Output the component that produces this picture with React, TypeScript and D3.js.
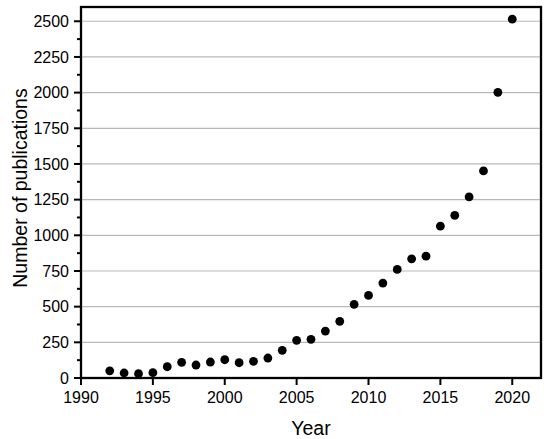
import { scaleLinear, range } from "d3";

const WIDTH = 550;
const HEIGHT = 439;

const MARGIN = {
  top: 7,
  right: 9,
  bottom: 61,
  left: 81,
};

const FONT = "'Liberation Sans', Arial, Helvetica, sans-serif";

// data
const years = [
  1992, 1993, 1994, 1995, 1996, 1997, 1998, 1999, 2000, 2001, 2002, 2003,
  2004, 2005, 2006, 2007, 2008, 2009, 2010, 2011, 2012, 2013, 2014, 2015,
  2016, 2017, 2018, 2019, 2020,
];
const publications = [
  50, 35, 30, 37, 79, 110, 91, 112, 128, 107, 117, 140,
  194, 264, 271, 329, 397, 516, 579, 665, 761, 835, 854, 1064,
  1139, 1269, 1451, 2002, 2515,
];

const xTickValues = [1990, 1995, 2000, 2005, 2010, 2015, 2020];
const yTickValues = [0, 250, 500, 750, 1000, 1250, 1500, 1750, 2000, 2250, 2500];

const X_DOMAIN: [number, number] = [1990, 2022];
const Y_DOMAIN: [number, number] = [0, 2600];

export default function App() {
  const innerWidth = WIDTH - MARGIN.left - MARGIN.right;
  const innerHeight = HEIGHT - MARGIN.top - MARGIN.bottom;

  const xScale = scaleLinear().domain(X_DOMAIN).range([0, innerWidth]);
  const yScale = scaleLinear().domain(Y_DOMAIN).range([innerHeight, 0]);

  // minor ticks halfway between majors
  const yMinor = range(125, 2600, 250);

  return (
    <svg
      width={WIDTH}
      height={HEIGHT}
      style={{ position: "absolute", left: 0, top: 0, background: "white" }}
      fontFamily={FONT}
    >
      <g transform={`translate(${MARGIN.left},${MARGIN.top})`}>
        {/* GRID */}
        {yTickValues
          .filter(t => t > 0)
          .map(t => (
            <line
              key={`g${t}`}
              x1={0}
              x2={innerWidth}
              y1={yScale(t)}
              y2={yScale(t)}
              stroke="#b9b9b9"
              strokeWidth={1.2}
            />
          ))}

        {/* POINTS */}
        {years.map((yr, i) => (
          <circle
            key={yr}
            cx={xScale(yr)}
            cy={yScale(publications[i])}
            r={4.4}
            fill="black"
          />
        ))}

        {/* FRAME */}
        <rect
          x={0}
          y={0}
          width={innerWidth}
          height={innerHeight}
          fill="none"
          stroke="black"
          strokeWidth={2.3}
        />

        {/* Y AXIS */}
        {yTickValues.map(t => (
          <g key={`y${t}`} transform={`translate(0,${yScale(t)})`}>
            <line x2={-7} stroke="black" strokeWidth={2} />
            <text
              x={-12}
              dy="0.36em"
              textAnchor="end"
              fontSize={16}
              fill="black"
            >
              {t}
            </text>
          </g>
        ))}
        {yMinor.map(t => (
          <line
            key={`ym${t}`}
            x2={-4}
            y1={yScale(t)}
            y2={yScale(t)}
            stroke="black"
            strokeWidth={2}
          />
        ))}

        {/* X AXIS */}
        {xTickValues.map(t => (
          <g key={`x${t}`} transform={`translate(${xScale(t)},${innerHeight})`}>
            <line y2={7} stroke="black" strokeWidth={2} />
            <text y={25} textAnchor="middle" fontSize={16} fill="black">
              {t}
            </text>
          </g>
        ))}

        {/* AXIS TITLES */}
        <text
          x={innerWidth / 2}
          y={innerHeight + 57}
          textAnchor="middle"
          fontSize={19.5}
          fill="black"
        >
          Year
        </text>
        <text
          transform={`translate(${27 - MARGIN.left},${188 - MARGIN.top}) rotate(-90)`}
          textAnchor="middle"
          fontSize={19.5}
          fill="black"
        >
          Number of publications
        </text>
      </g>
    </svg>
  );
}
